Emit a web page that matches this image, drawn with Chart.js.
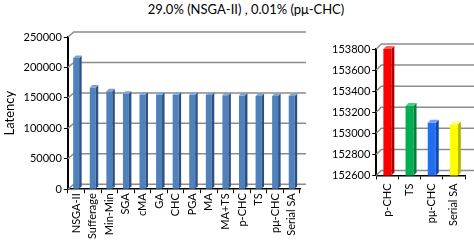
<!DOCTYPE html>
<html>
<head>
<meta charset="utf-8">
<script src="https://cdn.jsdelivr.net/npm/chart.js@4"></script>
<style>
  html, body { margin: 0; padding: 0; background: #fff; overflow: hidden; }
  #wrap { position: relative; width: 474px; height: 245px; overflow: hidden; }
  #title {
    position: absolute; left: 140px; width: 212px; top: 1px;
    font: 13px Lato, sans-serif; color: #000; text-align: center; white-space: nowrap;
  }
  #left { position: absolute; left: 0; top: 0; }
  #right { position: absolute; left: 310px; top: 0; }
</style>
</head>
<body>
<div id="wrap">
  <div id="title">29.0% (NSGA-II) , 0.01% (pμ-CHC)</div>
  <canvas id="left" width="310" height="245"></canvas>
  <canvas id="right" width="164" height="245"></canvas>
</div>
<script>
  // all algorithms (left panel)
  const algos = ["NSGA-II", "Sufferage", "Min-Min", "SGA", "cMA", "GA", "CHC", "PGA",
    "MA", "MA+TS", "p-CHC", "TS", "pμ-CHC", "Serial SA"];
  const latency = [215700, 167000, 160800, 156900, 155700, 155300, 155200, 155000,
    154700, 154300, 153800, 153260, 153100, 153085];
  const leftTicks = [0, 50000, 100000, 150000, 200000, 250000];

  // zoom on the best four (right panel)
  const best = ["p-CHC", "TS", "pμ-CHC", "Serial SA"];
  const bestLatency = [153800, 153260, 153100, 153085];
  const rightTicks = [152600, 152800, 153000, 153200, 153400, 153600, 153800];

  const FONT = "Lato";

  // fake excel-ish 3d look: back wall gridlines + bar side and top faces
  const depth3d = {
    id: "depth3d",
    beforeDatasetsDraw(chart, args, opts) {
      const { ctx, chartArea: a } = chart;
      const y = chart.scales.y;
      ctx.save();
      ctx.strokeStyle = "#8c8c8c";
      ctx.lineWidth = 1.5;
      y.ticks.forEach((t) => {
        const py = y.getPixelForValue(t.value);
        ctx.beginPath();
        ctx.moveTo(a.left, py);
        ctx.lineTo(a.left + opts.dx, py + opts.dy);
        ctx.lineTo(a.right + opts.dx + opts.extra, py + opts.dy);
        ctx.stroke();
      });
      ctx.restore();
    },
    afterDatasetsDraw(chart, args, opts) {
      const { ctx, chartArea: a } = chart;
      const meta = chart.getDatasetMeta(0);
      const d = opts.bar;
      ctx.save();
      meta.data.forEach((bar, i) => {
        const p = bar.getProps(["x", "y", "base", "width"], true);
        const y = p.y, base = Math.min(p.base, a.bottom);
        const l = p.x - p.width / 2, r = p.x + p.width / 2;
        ctx.fillStyle = opts.side[i % opts.side.length];
        ctx.beginPath();
        ctx.moveTo(r, y);
        ctx.lineTo(r + d, y - d);
        ctx.lineTo(r + d, base - d);
        ctx.lineTo(r, base);
        ctx.closePath();
        ctx.fill();
        ctx.fillStyle = opts.top[i % opts.top.length];
        ctx.beginPath();
        ctx.moveTo(l, y);
        ctx.lineTo(l + d, y - d);
        ctx.lineTo(r + d, y - d);
        ctx.lineTo(r, y);
        ctx.closePath();
        ctx.fill();
      });
      ctx.restore();
    }
  };

  const axisX = (pad) => ({
    offset: true,
    grid: { display: true, drawOnChartArea: false, drawTicks: true, tickLength: 4, color: "#000", offset: true },
    border: { color: "#000", width: 1.5 },
    ticks: {
      autoSkip: false, minRotation: 90, maxRotation: 90, padding: pad,
      color: "#000", font: { family: FONT, size: 11 }
    }
  });

  const axisY = (ticksList) => ({
    min: ticksList[0], max: ticksList[ticksList.length - 1],
    afterBuildTicks: (s) => { s.ticks = ticksList.map((v) => ({ value: v })); },
    grid: { display: true, drawOnChartArea: false, drawTicks: true, tickLength: 4, color: "#000" },
    border: { color: "#000", width: 2 },
    ticks: { padding: 2, color: "#000", font: { family: FONT, size: 11 }, callback: (v) => String(v) }
  });

  const leftY = axisY(leftTicks);
  leftY.title = { display: true, text: "Latency", color: "#000", font: { family: FONT, size: 13 }, padding: { top: 0, bottom: 4 } };

  new Chart(document.getElementById("left"), {
    type: "bar",
    plugins: [depth3d],
    data: {
      labels: algos,
      datasets: [{
        data: latency,
        backgroundColor: "#4f81bd",
        categoryPercentage: 1,
        barPercentage: 0.36
      }]
    },
    options: {
      responsive: false,
      animation: false,
      layout: { padding: { left: 2, top: 37, right: 10, bottom: 6 } },
      plugins: {
        legend: { display: false },
        tooltip: { enabled: false },
        depth3d: { dx: 6, dy: -5, extra: 0, bar: 2.5, side: ["#2c5282"], top: ["#7fa4d4"] }
      },
      scales: { x: axisX(0), y: leftY }
    }
  });

  new Chart(document.getElementById("right"), {
    type: "bar",
    plugins: [depth3d],
    data: {
      labels: best,
      datasets: [{
        data: bestLatency,
        backgroundColor: ["#ff0000", "#00b050", "#1f6ff0", "#ffff00"],
        categoryPercentage: 1,
        barPercentage: 0.36
      }]
    },
    options: {
      responsive: false,
      animation: false,
      layout: { padding: { left: 20, top: 49, right: 9, bottom: 15 } },
      plugins: {
        legend: { display: false },
        tooltip: { enabled: false },
        depth3d: {
          dx: 5, dy: -5, extra: 10, bar: 3,
          side: ["#b00000", "#00803a", "#0d48b0", "#b8b800"],
          top: ["#ff6060", "#40d080", "#6fa0ff", "#ffff90"]
        }
      },
      scales: { x: axisX(4), y: axisY(rightTicks) }
    }
  });
</script>
</body>
</html>
